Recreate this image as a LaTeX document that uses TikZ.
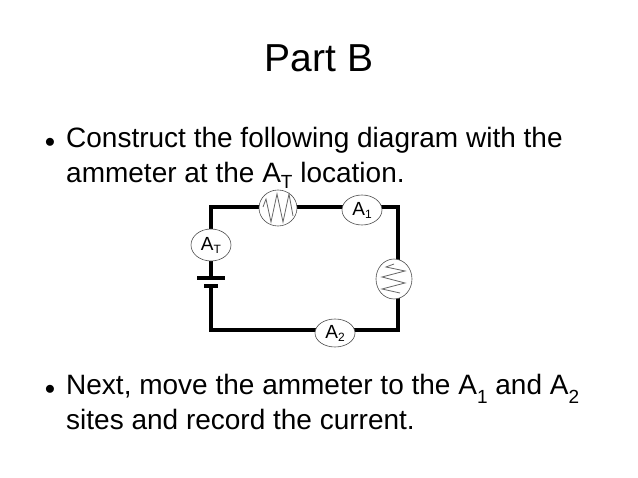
\documentclass[tikz,border=0pt]{standalone}
\usepackage{fontspec}
\setmainfont{Liberation Sans}
\usetikzlibrary{shapes.geometric}
\begin{document}
\begin{tikzpicture}[x=1pt,y=-1pt,
  wire/.style={line width=3.2pt},
  meter/.style={ellipse,draw=black!70,line width=0.6pt,fill=white,inner sep=0pt},
  txt/.style={anchor=base west,font=\fontsize{28}{32}\selectfont,inner sep=0pt}]
\useasboundingbox (0,0) rectangle (638,478);
\node[anchor=base,font=\fontsize{39}{44}\selectfont,inner sep=0pt] (title) at (319,72) {Part B};
\node[anchor=base,inner sep=0pt,font=\fontsize{22}{22}\selectfont] (b1) at (50,148) {$\bullet$};
\node[txt] (t1) at (66,148) {Construct the following diagram with the};
\node[txt] (t2) at (66,183) {ammeter at the A\raisebox{-0.35ex}{\fontsize{19}{19}\selectfont T} location.};
\node[anchor=base,inner sep=0pt,font=\fontsize{22}{22}\selectfont] (b2) at (50,395) {$\bullet$};
\node[txt] (t3) at (66,395) {Next, move the ammeter to the A\raisebox{-0.6ex}{\fontsize{19}{19}\selectfont 1} and A\raisebox{-0.6ex}{\fontsize{19}{19}\selectfont 2}};
\node[txt] (t4) at (66,430) {sites and record the current.};
% circuit
\coordinate (tl) at (211,207); \coordinate (tr) at (398,207);
\coordinate (bl) at (211,330); \coordinate (br) at (398,330);
\coordinate (bp1) at (211,278); \coordinate (bp2) at (211,286);
\draw[wire] (bp1) -- (tl) -- (tr) -- (br) -- (bl) -- (bp2);
\draw[line width=3.5pt] (197,278) -- (225,278);
\draw[line width=3.5pt] (204,286) -- (218,286);
\node[meter,minimum width=38pt,minimum height=36pt] (r1) at (278,208) {};
\draw[black!60,line width=0.8pt] (263,207) -- (266,199) -- (271,222) -- (277,194) -- (283,222) -- (289,194) -- (293,216);
\node[meter,minimum width=40pt,minimum height=30pt,font=\fontsize{19}{19}\selectfont] (a1) at (362,210) {A\raisebox{-0.3ex}{\fontsize{12}{12}\selectfont 1}};
\node[meter,minimum width=40pt,minimum height=32pt,font=\fontsize{19}{19}\selectfont] (at) at (211,245) {A\raisebox{-0.3ex}{\fontsize{12}{12}\selectfont T}};
\node[meter,minimum width=36pt,minimum height=40pt] (r2) at (394,279) {};
\draw[black!60,line width=0.8pt] (394,264) -- (386,267) -- (405,271) -- (382,277) -- (405,283) -- (382,289) -- (400,293);
\node[meter,minimum width=40pt,minimum height=28pt,font=\fontsize{19}{19}\selectfont] (a2) at (335,333) {A\raisebox{-0.3ex}{\fontsize{12}{12}\selectfont 2}};
\end{tikzpicture}
\end{document}
